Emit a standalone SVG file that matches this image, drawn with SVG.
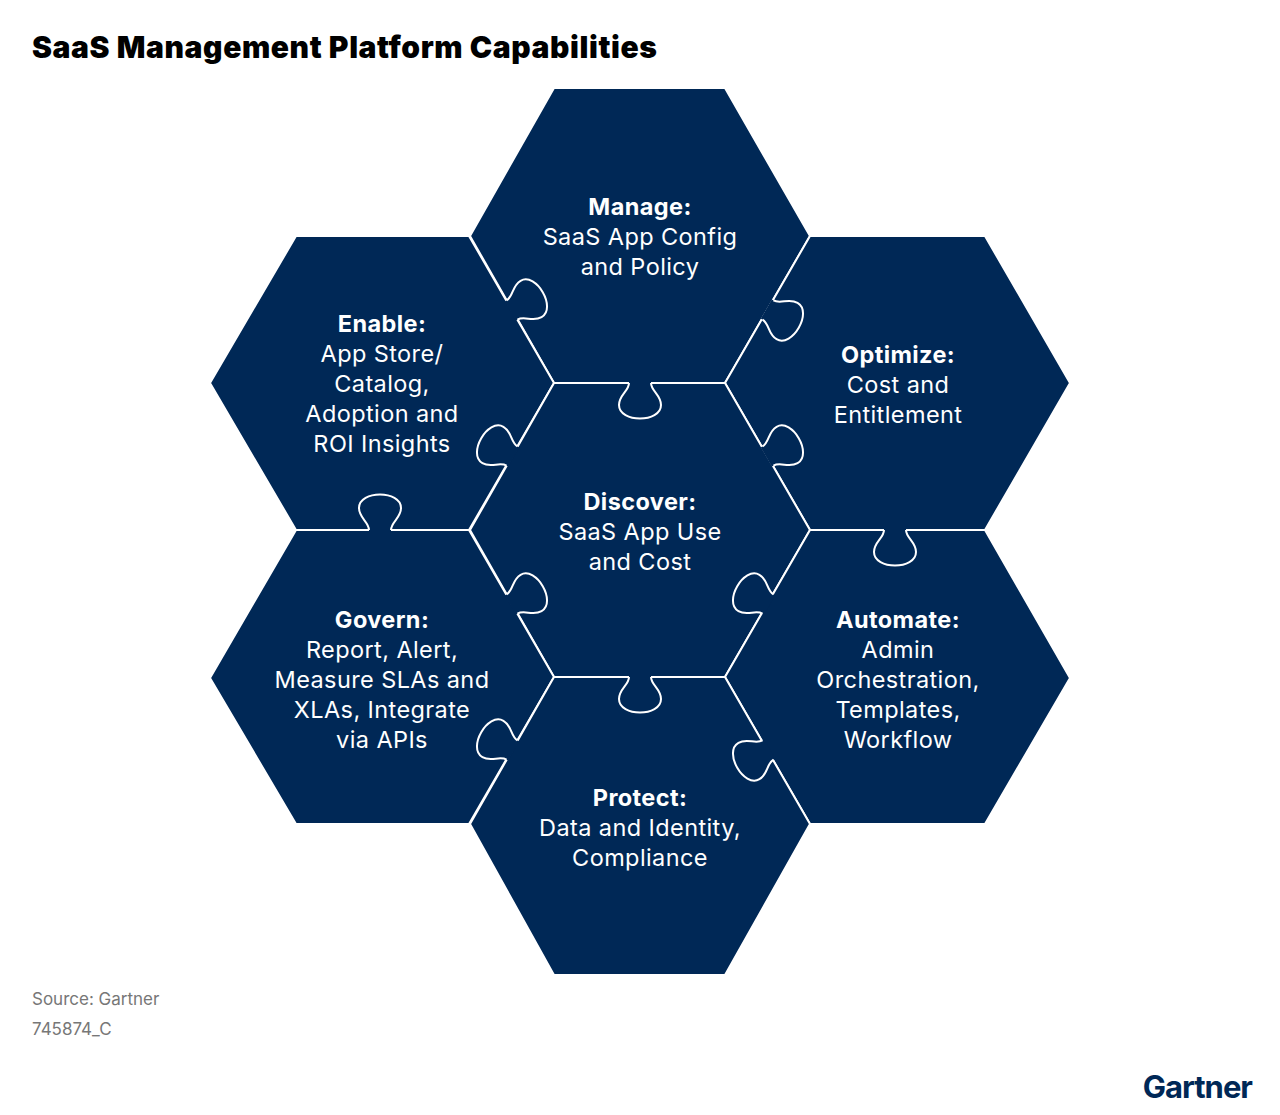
<svg xmlns="http://www.w3.org/2000/svg" width="1280" height="1115" viewBox="0 0 1280 1115">
<style>
.hex{fill:#002856;stroke:#fff;stroke-width:2}
.kf{fill:#002856;stroke:none}
.ks{fill:none;stroke:#fff;stroke-width:2}
text{font-family:"Inter","Liberation Sans",sans-serif}
.t{fill:#fff;font-size:23.5px;text-anchor:middle;letter-spacing:0.4px}
.b{font-weight:bold}
</style>
<defs>
<path id="kb" d="M-11,-2 L-11,0 C-11,8 -21,12 -21,22 C-21,40 21,40 21,22 C21,12 11,8 11,0 L11,-2 Z"/>
<path id="kl" d="M-11,0 C-11,8 -21,12 -21,22 C-21,40 21,40 21,22 C21,12 11,8 11,0"/>
<g id="knob"><use href="#kb" class="kf"/><use href="#kl" class="ks"/></g>
</defs>
<rect width="1280" height="1115" fill="#fff"/>
<text x="32" y="58" font-size="30" font-weight="900" fill="#000" letter-spacing="0.6">SaaS Management Platform Capabilities</text>
<g id="nodes">
<g id="manage"><polygon class="hex" points="470,236 554,88 725,88 810,236 725,383 554,383"/></g>
<g id="enable"><polygon class="hex" points="210,383 296,236 469,236 554,383 469,530 296,530"/></g>
<g id="optimize"><polygon class="hex" points="725,383 810,236 985,236 1070,383 985,530 810,530"/></g>
<g id="discover"><polygon class="hex" points="470,530 554,383 725,383 810,530 725,677 554,677"/></g>
<g id="govern"><polygon class="hex" points="210,678 296,530 469,530 554,677 469,824 296,824"/></g>
<g id="automate"><polygon class="hex" points="725,677 810,530 985,530 1070,678 985,824 810,824"/></g>
<g id="protect"><polygon class="hex" points="470,824 554,677 725,677 810,824 725,975 554,975"/></g>
</g>
<g id="connectors">
<use href="#knob" transform="translate(640,383) rotate(0)"/>
<use href="#knob" transform="translate(512,310) rotate(-120)"/>
<use href="#knob" transform="translate(768,310) rotate(-60)"/>
<use href="#knob" transform="translate(512,456) rotate(120)"/>
<use href="#knob" transform="translate(768,456) rotate(-120)"/>
<use href="#knob" transform="translate(380,530) rotate(180)"/>
<use href="#knob" transform="translate(895,530) rotate(0)"/>
<use href="#knob" transform="translate(512,604) rotate(-120)"/>
<use href="#knob" transform="translate(768,604) rotate(120)"/>
<use href="#knob" transform="translate(640,677) rotate(0)"/>
<use href="#knob" transform="translate(512,750) rotate(120)"/>
<use href="#knob" transform="translate(768,750) rotate(60)"/>
</g>
<g>
<text class="t" x="640" y="215"><tspan class="b">Manage:</tspan><tspan x="640" dy="30">SaaS App Config</tspan><tspan x="640" dy="30">and Policy</tspan></text>
<text class="t" x="382" y="332"><tspan class="b">Enable:</tspan><tspan x="382" dy="30">App Store/</tspan><tspan x="382" dy="30">Catalog,</tspan><tspan x="382" dy="30">Adoption and</tspan><tspan x="382" dy="30">ROI Insights</tspan></text>
<text class="t" x="898" y="363"><tspan class="b">Optimize:</tspan><tspan x="898" dy="30">Cost and</tspan><tspan x="898" dy="30">Entitlement</tspan></text>
<text class="t" x="640" y="510"><tspan class="b">Discover:</tspan><tspan x="640" dy="30">SaaS App Use</tspan><tspan x="640" dy="30">and Cost</tspan></text>
<text class="t" x="382" y="628"><tspan class="b">Govern:</tspan><tspan x="382" dy="30">Report, Alert,</tspan><tspan x="382" dy="30">Measure SLAs and</tspan><tspan x="382" dy="30">XLAs, Integrate</tspan><tspan x="382" dy="30">via APIs</tspan></text>
<text class="t" x="898" y="628"><tspan class="b">Automate:</tspan><tspan x="898" dy="30">Admin</tspan><tspan x="898" dy="30">Orchestration,</tspan><tspan x="898" dy="30">Templates,</tspan><tspan x="898" dy="30">Workflow</tspan></text>
<text class="t" x="640" y="806"><tspan class="b">Protect:</tspan><tspan x="640" dy="30">Data and Identity,</tspan><tspan x="640" dy="30">Compliance</tspan></text>
</g>
<text x="32" y="1005" font-size="17" fill="#777">Source: Gartner</text>
<text x="32" y="1035" font-size="17" fill="#777">745874_C</text>
<text x="1252" y="1098" font-size="31" font-weight="bold" fill="#002856" text-anchor="end" letter-spacing="-1">Gartner</text>
</svg>
